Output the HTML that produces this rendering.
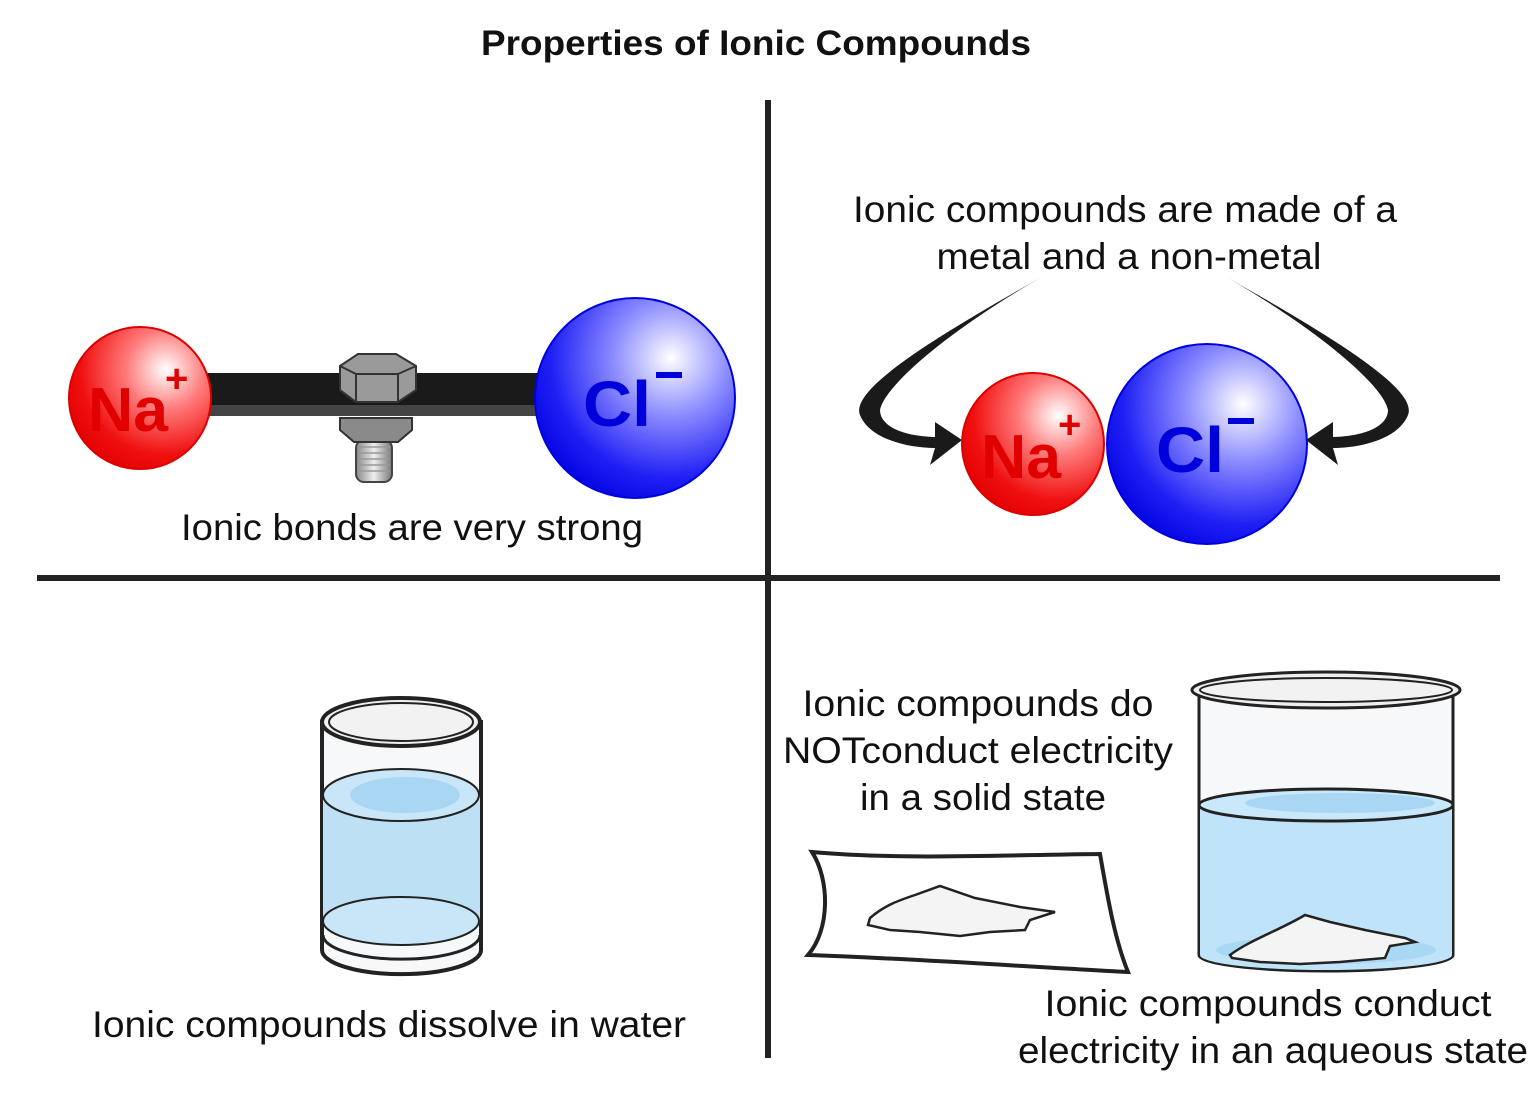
<!DOCTYPE html>
<html><head><meta charset="utf-8"><style>
html,body{margin:0;padding:0;background:#fff;}
svg{display:block;}
text{font-family:"Liberation Sans",sans-serif;fill:#111;}
.t{font-size:37px;font-weight:300;}
</style></head><body>
<svg width="1536" height="1096" viewBox="0 0 1536 1096" xmlns="http://www.w3.org/2000/svg">
<defs>
<radialGradient id="rg" cx="0.68" cy="0.3" r="0.8">
<stop offset="0" stop-color="#fff"/><stop offset="0.35" stop-color="#ff7a7a"/><stop offset="0.75" stop-color="#f01010"/><stop offset="1" stop-color="#e00000"/></radialGradient>
<radialGradient id="bg" cx="0.68" cy="0.3" r="0.8">
<stop offset="0" stop-color="#fff"/><stop offset="0.35" stop-color="#8f8fff"/><stop offset="0.75" stop-color="#2020f5"/><stop offset="1" stop-color="#0000e0"/></radialGradient>
<linearGradient id="thr" x1="0" x2="1"><stop offset="0" stop-color="#888"/><stop offset="0.5" stop-color="#eee"/><stop offset="1" stop-color="#777"/></linearGradient>
</defs>
<text x="756" y="55" text-anchor="middle" style="font-size:35px;font-weight:bold" textLength="550" lengthAdjust="spacingAndGlyphs">Properties of Ionic Compounds</text>
<line x1="768" y1="100" x2="768" y2="1058" stroke="#222" stroke-width="6"/>
<line x1="37" y1="578" x2="1500" y2="578" stroke="#222" stroke-width="6"/>

<!-- TL -->
<rect x="200" y="373" width="345" height="43" fill="#1a1a1a"/>
<rect x="200" y="405" width="345" height="11" fill="#444"/>
<rect x="356" y="440" width="36" height="42" rx="8" fill="url(#thr)" stroke="#444" stroke-width="2"/>
<g stroke="#999" stroke-width="1.5"><line x1="358" y1="447" x2="390" y2="447"/><line x1="358" y1="453" x2="390" y2="453"/><line x1="358" y1="459" x2="390" y2="459"/><line x1="358" y1="465" x2="390" y2="465"/><line x1="358" y1="471" x2="390" y2="471"/></g>
<path d="M340 418 L412 418 L412 430 L398 442 L354 442 L340 430Z" fill="#8a8a8a" stroke="#333" stroke-width="2"/>
<path d="M340 366 L358 354 L396 354 L416 366 L416 390 L398 402 L356 402 L340 390Z" fill="#9a9a9a" stroke="#333" stroke-width="2"/>
<path d="M356 374 L398 374 L398 402 M356 374 L356 402 M340 366 L356 374 M416 366 L398 374" fill="none" stroke="#333" stroke-width="2"/>
<circle cx="140" cy="398" r="71" fill="url(#rg)" stroke="#d00" stroke-width="2"/>
<text x="88" y="431" style="font-size:62px;font-weight:bold;fill:#e00000" textLength="80" lengthAdjust="spacingAndGlyphs">Na</text>
<text x="165" y="392" style="font-size:40px;font-weight:bold;fill:#e00000">+</text>
<circle cx="635" cy="398" r="100" fill="url(#bg)" stroke="#00d" stroke-width="2"/>
<text x="583" y="426" style="font-size:64px;font-weight:bold;fill:#0000dd" textLength="68" lengthAdjust="spacingAndGlyphs">Cl</text>
<rect x="656" y="372" width="26" height="6" fill="#0000dd"/>
<text x="412" y="540" text-anchor="middle" class="t" textLength="462" lengthAdjust="spacingAndGlyphs">Ionic bonds are very strong</text>

<!-- TR -->
<text x="1125" y="222" text-anchor="middle" class="t" textLength="544" lengthAdjust="spacingAndGlyphs">Ionic compounds are made of a</text>
<text x="1129" y="269" text-anchor="middle" class="t" textLength="385" lengthAdjust="spacingAndGlyphs">metal and a non-metal</text>
<path d="M1040 278 C930 340 850 390 860 415 C870 440 910 448 935 448 L930 465 L962 440 L935 422 L935 437 C900 436 880 425 880 410 C885 385 950 330 1040 278Z" fill="#1a1a1a"/>
<path d="M1228 278 C1338 340 1418 390 1408 415 C1398 440 1358 448 1333 448 L1338 465 L1306 440 L1333 422 L1333 437 C1368 436 1388 425 1388 410 C1383 385 1318 330 1228 278Z" fill="#1a1a1a"/>
<circle cx="1033" cy="444" r="71" fill="url(#rg)" stroke="#d00" stroke-width="2"/>
<text x="981" y="478" style="font-size:62px;font-weight:bold;fill:#e00000" textLength="80" lengthAdjust="spacingAndGlyphs">Na</text>
<text x="1058" y="438" style="font-size:40px;font-weight:bold;fill:#e00000">+</text>
<circle cx="1207" cy="444" r="100" fill="url(#bg)" stroke="#00d" stroke-width="2"/>
<text x="1156" y="472" style="font-size:64px;font-weight:bold;fill:#0000dd" textLength="68" lengthAdjust="spacingAndGlyphs">Cl</text>
<rect x="1228" y="418" width="26" height="6" fill="#0000dd"/>

<!-- BL glass -->
<path d="M322 722 L322 950 A79 24 0 0 0 481 950 L481 722Z" fill="#f6f8fa" stroke="#222" stroke-width="4"/>
<path d="M323 795 L323 921 A78 23 0 0 0 480 921 L480 795Z" fill="#bde0f5"/>
<ellipse cx="401" cy="795" rx="78" ry="26" fill="#c9e6f8" stroke="#222" stroke-width="2"/>
<ellipse cx="405" cy="795" rx="55" ry="18" fill="#a8d6f3"/>
<ellipse cx="401" cy="921" rx="78" ry="24" fill="#c9e6f8" stroke="#222" stroke-width="2"/>
<path d="M323 935 A78 24 0 0 0 480 935" fill="none" stroke="#222" stroke-width="3"/>
<ellipse cx="401" cy="722" rx="79" ry="24" fill="#eef0f2" stroke="#222" stroke-width="4"/>
<ellipse cx="401" cy="722" rx="72" ry="19" fill="#f2f2f2" stroke="#222" stroke-width="2"/>
<text x="389" y="1037" text-anchor="middle" class="t" textLength="594" lengthAdjust="spacingAndGlyphs">Ionic compounds dissolve in water</text>

<!-- BR -->
<text x="978" y="716" text-anchor="middle" class="t" textLength="351" lengthAdjust="spacingAndGlyphs">Ionic compounds do</text>
<text x="978" y="763" text-anchor="middle" class="t" textLength="390" lengthAdjust="spacingAndGlyphs">NOTconduct electricity</text>
<text x="983" y="810" text-anchor="middle" class="t" textLength="246" lengthAdjust="spacingAndGlyphs">in a solid state</text>
<path d="M812 852 C900 860 1000 855 1100 854 C1108 900 1115 940 1128 972 C1000 965 900 958 808 955 C830 930 830 880 812 852Z" fill="#fff" stroke="#222" stroke-width="4"/>
<path d="M870 918 C885 905 900 900 915 895 L940 886 L975 898 L1020 907 L1055 912 L1030 920 L1025 930 L990 932 L960 936 L920 932 L890 930 L868 925Z" fill="#f4f4f4" stroke="#222" stroke-width="2.5"/>
<path d="M1199 690 L1199 955 A127 16 0 0 0 1453 955 L1453 690Z" fill="#f7f8f9" stroke="#222" stroke-width="3"/>
<path d="M1200 805 L1200 955 A126 15 0 0 0 1452 955 L1452 805Z" fill="#bfe3f8"/>
<ellipse cx="1326" cy="950" rx="110" ry="14" fill="#a9d8f4"/>
<ellipse cx="1326" cy="805" rx="127" ry="16" fill="#c9e8fa" stroke="#222" stroke-width="3"/>
<ellipse cx="1340" cy="803" rx="95" ry="10" fill="#a8d6f3"/>
<path d="M1230 955 C1250 940 1280 930 1305 915 L1330 922 L1365 930 L1405 938 L1415 942 L1390 946 L1385 958 L1340 962 L1300 964 L1260 962 L1232 958Z" fill="#f4f4f4" stroke="#222" stroke-width="2.5"/>
<ellipse cx="1326" cy="690" rx="134" ry="18" fill="#eeeeee" stroke="#222" stroke-width="3"/>
<ellipse cx="1326" cy="690" rx="126" ry="12" fill="#f2f2f2" stroke="#222" stroke-width="2"/>
<text x="1268" y="1016" text-anchor="middle" class="t" textLength="447" lengthAdjust="spacingAndGlyphs">Ionic compounds conduct</text>
<text x="1273" y="1063" text-anchor="middle" class="t" textLength="510" lengthAdjust="spacingAndGlyphs">electricity in an aqueous state</text>
</svg>
</body></html>
